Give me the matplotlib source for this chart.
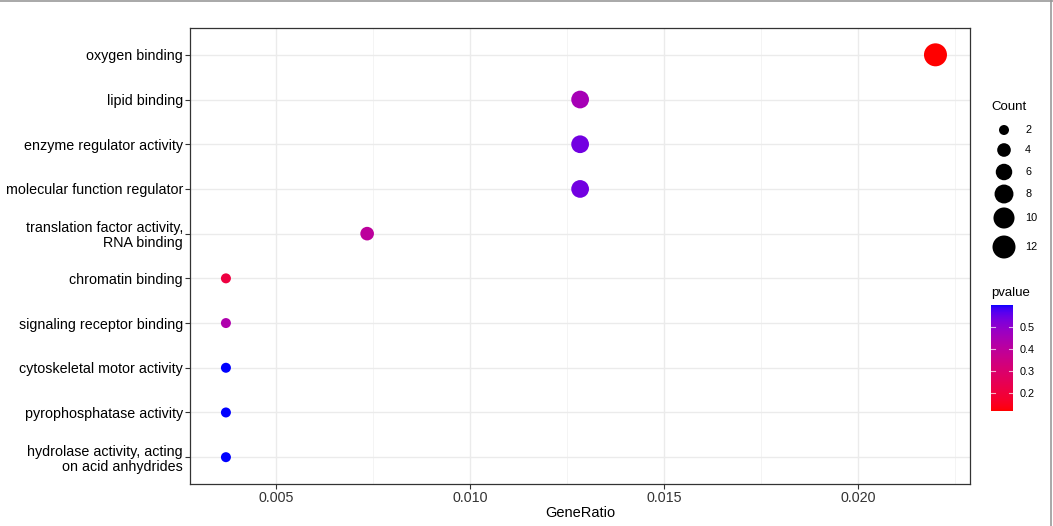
import numpy as np
import matplotlib
matplotlib.use("Agg")
import matplotlib.pyplot as plt
from matplotlib.colors import ListedColormap, Normalize
from matplotlib.lines import Line2D

terms = ["oxygen binding", "lipid binding", "enzyme regulator activity",
         "molecular function regulator", "translation factor activity,\nRNA binding",
         "chromatin binding", "signaling receptor binding", "cytoskeletal motor activity",
         "pyrophosphatase activity", "hydrolase activity, acting\non acid anhydrides"]
gene_ratio = [0.02200, 0.01284, 0.01284, 0.01284, 0.00735, 0.00371, 0.00371, 0.00371, 0.00371, 0.00371]
counts = [12, 7, 7, 7, 4, 2, 2, 2, 2, 2]
pvalues = [0.118, 0.455, 0.54, 0.54, 0.40, 0.21, 0.435, 0.60, 0.60, 0.60]
size_breaks = [2, 4, 6, 8, 10, 12]
p_ticks = [0.2, 0.3, 0.4, 0.5]
x_ticks = [0.005, 0.010, 0.015, 0.020]

plt.rcParams['font.family'] = ['Liberation Sans', 'DejaVu Sans']

# Lab interpolation red -> blue (like ggplot gradient)
def srgb_to_lab(c):
    c = np.asarray(c, float)
    lin = np.where(c <= 0.04045, c / 12.92, ((c + 0.055) / 1.055) ** 2.4)
    M = np.array([[0.4124, 0.3576, 0.1805], [0.2126, 0.7152, 0.0722], [0.0193, 0.1192, 0.9505]])
    xyz = M @ lin / np.array([0.95047, 1.0, 1.08883])
    f = np.where(xyz > 0.008856, np.cbrt(xyz), 7.787 * xyz + 16 / 116)
    return np.array([116 * f[1] - 16, 500 * (f[0] - f[1]), 200 * (f[1] - f[2])])

def lab_to_srgb(lab):
    L, a, b = lab
    fy = (L + 16) / 116; fx = fy + a / 500; fz = fy - b / 200
    f = np.array([fx, fy, fz])
    xyz = np.where(f ** 3 > 0.008856, f ** 3, (f - 16 / 116) / 7.787) * np.array([0.95047, 1.0, 1.08883])
    Minv = np.array([[3.2406, -1.5372, -0.4986], [-0.9689, 1.8758, 0.0415], [0.0557, -0.2040, 1.0570]])
    lin = Minv @ xyz
    lin = np.clip(lin, 0, 1)
    c = np.where(lin <= 0.0031308, 12.92 * lin, 1.055 * lin ** (1 / 2.4) - 0.055)
    return np.clip(c, 0, 1)

lab_r = srgb_to_lab([1, 0, 0]); lab_b = srgb_to_lab([0, 0, 1])
cols = [lab_to_srgb(lab_r + t * (lab_b - lab_r)) for t in np.linspace(0, 1, 256)]
cmap = ListedColormap(cols)
norm = Normalize(vmin=min(pvalues), vmax=max(pvalues))

def area(c):
    d = np.sqrt(100 + (np.asarray(c, float) - 2) / 10 * 429)  # diameter px
    return (d * 0.72) ** 2

fig = plt.figure(figsize=(10.53, 5.26), dpi=100)
ax = fig.add_axes([190 / 1053, 1 - 484 / 526, 780 / 1053, 456 / 526])

n = len(terms)
ypos = np.arange(n)[::-1]
ax.scatter(gene_ratio, ypos, s=area(counts), c=pvalues, cmap=cmap, norm=norm,
           edgecolors='none', zorder=3)
ax.set_yticks(ypos)
ax.set_yticklabels(terms, fontsize=10.3, color='black', linespacing=1.1)
ax.set_xticks(x_ticks)
ax.set_xticklabels(["0.005", "0.010", "0.015", "0.020"], fontsize=10.3, color='#333333')
ax.set_xticks(np.arange(0.0025, 0.0226, 0.0025), minor=True)
ax.set_ylim(-0.6, n - 1 + 0.6)
ax.set_xlim(0.002784, 0.02289)
ax.tick_params(axis='x', which='minor', length=0)
ax.tick_params(axis='both', which='major', length=3.5, color='#333333', width=0.8)
ax.tick_params(axis='y', pad=1.5)
ax.tick_params(axis='x', pad=1.5)
ax.set_xlabel("GeneRatio", fontsize=10.5, labelpad=1)
ax.grid(True, which='major', color='#EBEBEB', lw=1.0, zorder=0)
ax.grid(True, which='minor', axis='x', color='#F2F2F2', lw=0.6, zorder=0)
ax.set_axisbelow(True)
for sp in ax.spines.values():
    sp.set_color('#333333'); sp.set_linewidth(0.9)

# size legend
fig.text(991 / 1053, 1 - 107 / 526, "Count", fontsize=9.5, va='center', ha='left')
ly = [130, 150, 172, 194, 218, 247]
lax = fig.add_axes([0, 0, 1, 1], facecolor='none')
lax.set_xlim(0, 1053); lax.set_ylim(526, 0); lax.axis('off')
lax.scatter([1004] * len(size_breaks), ly, s=area(size_breaks), c='black', edgecolors='none')
for b, y in zip(size_breaks, ly):
    lax.text(1025, y, str(b), fontsize=7.8, va='center', ha='left')

# colorbar
cax = fig.add_axes([991 / 1053, 1 - 411 / 526, 22 / 1053, 106 / 526])
cb = fig.colorbar(plt.cm.ScalarMappable(norm=norm, cmap=cmap), cax=cax)
cb.outline.set_visible(False)
cb.set_ticks(p_ticks)
cb.set_ticklabels([str(t) for t in p_ticks])
cax.tick_params(length=0, labelsize=7.8, pad=5)
for t in p_ticks:
    cax.plot([0.0, 0.2], [t, t], color='white', lw=0.8, alpha=0.7, transform=cax.get_yaxis_transform())
    cax.plot([0.8, 1.0], [t, t], color='white', lw=0.8, alpha=0.7, transform=cax.get_yaxis_transform())
fig.text(991 / 1053, 1 - 293 / 526, "pvalue", fontsize=9.5, va='center', ha='left')

# figure border (top and right)
fig.add_artist(Line2D([0, 1], [0.999, 0.999], transform=fig.transFigure, color='#999999', lw=1.2))
fig.add_artist(Line2D([0.9985, 0.9985], [0, 1], transform=fig.transFigure, color='#999999', lw=1.2))

fig.savefig("out.png", dpi=100)
